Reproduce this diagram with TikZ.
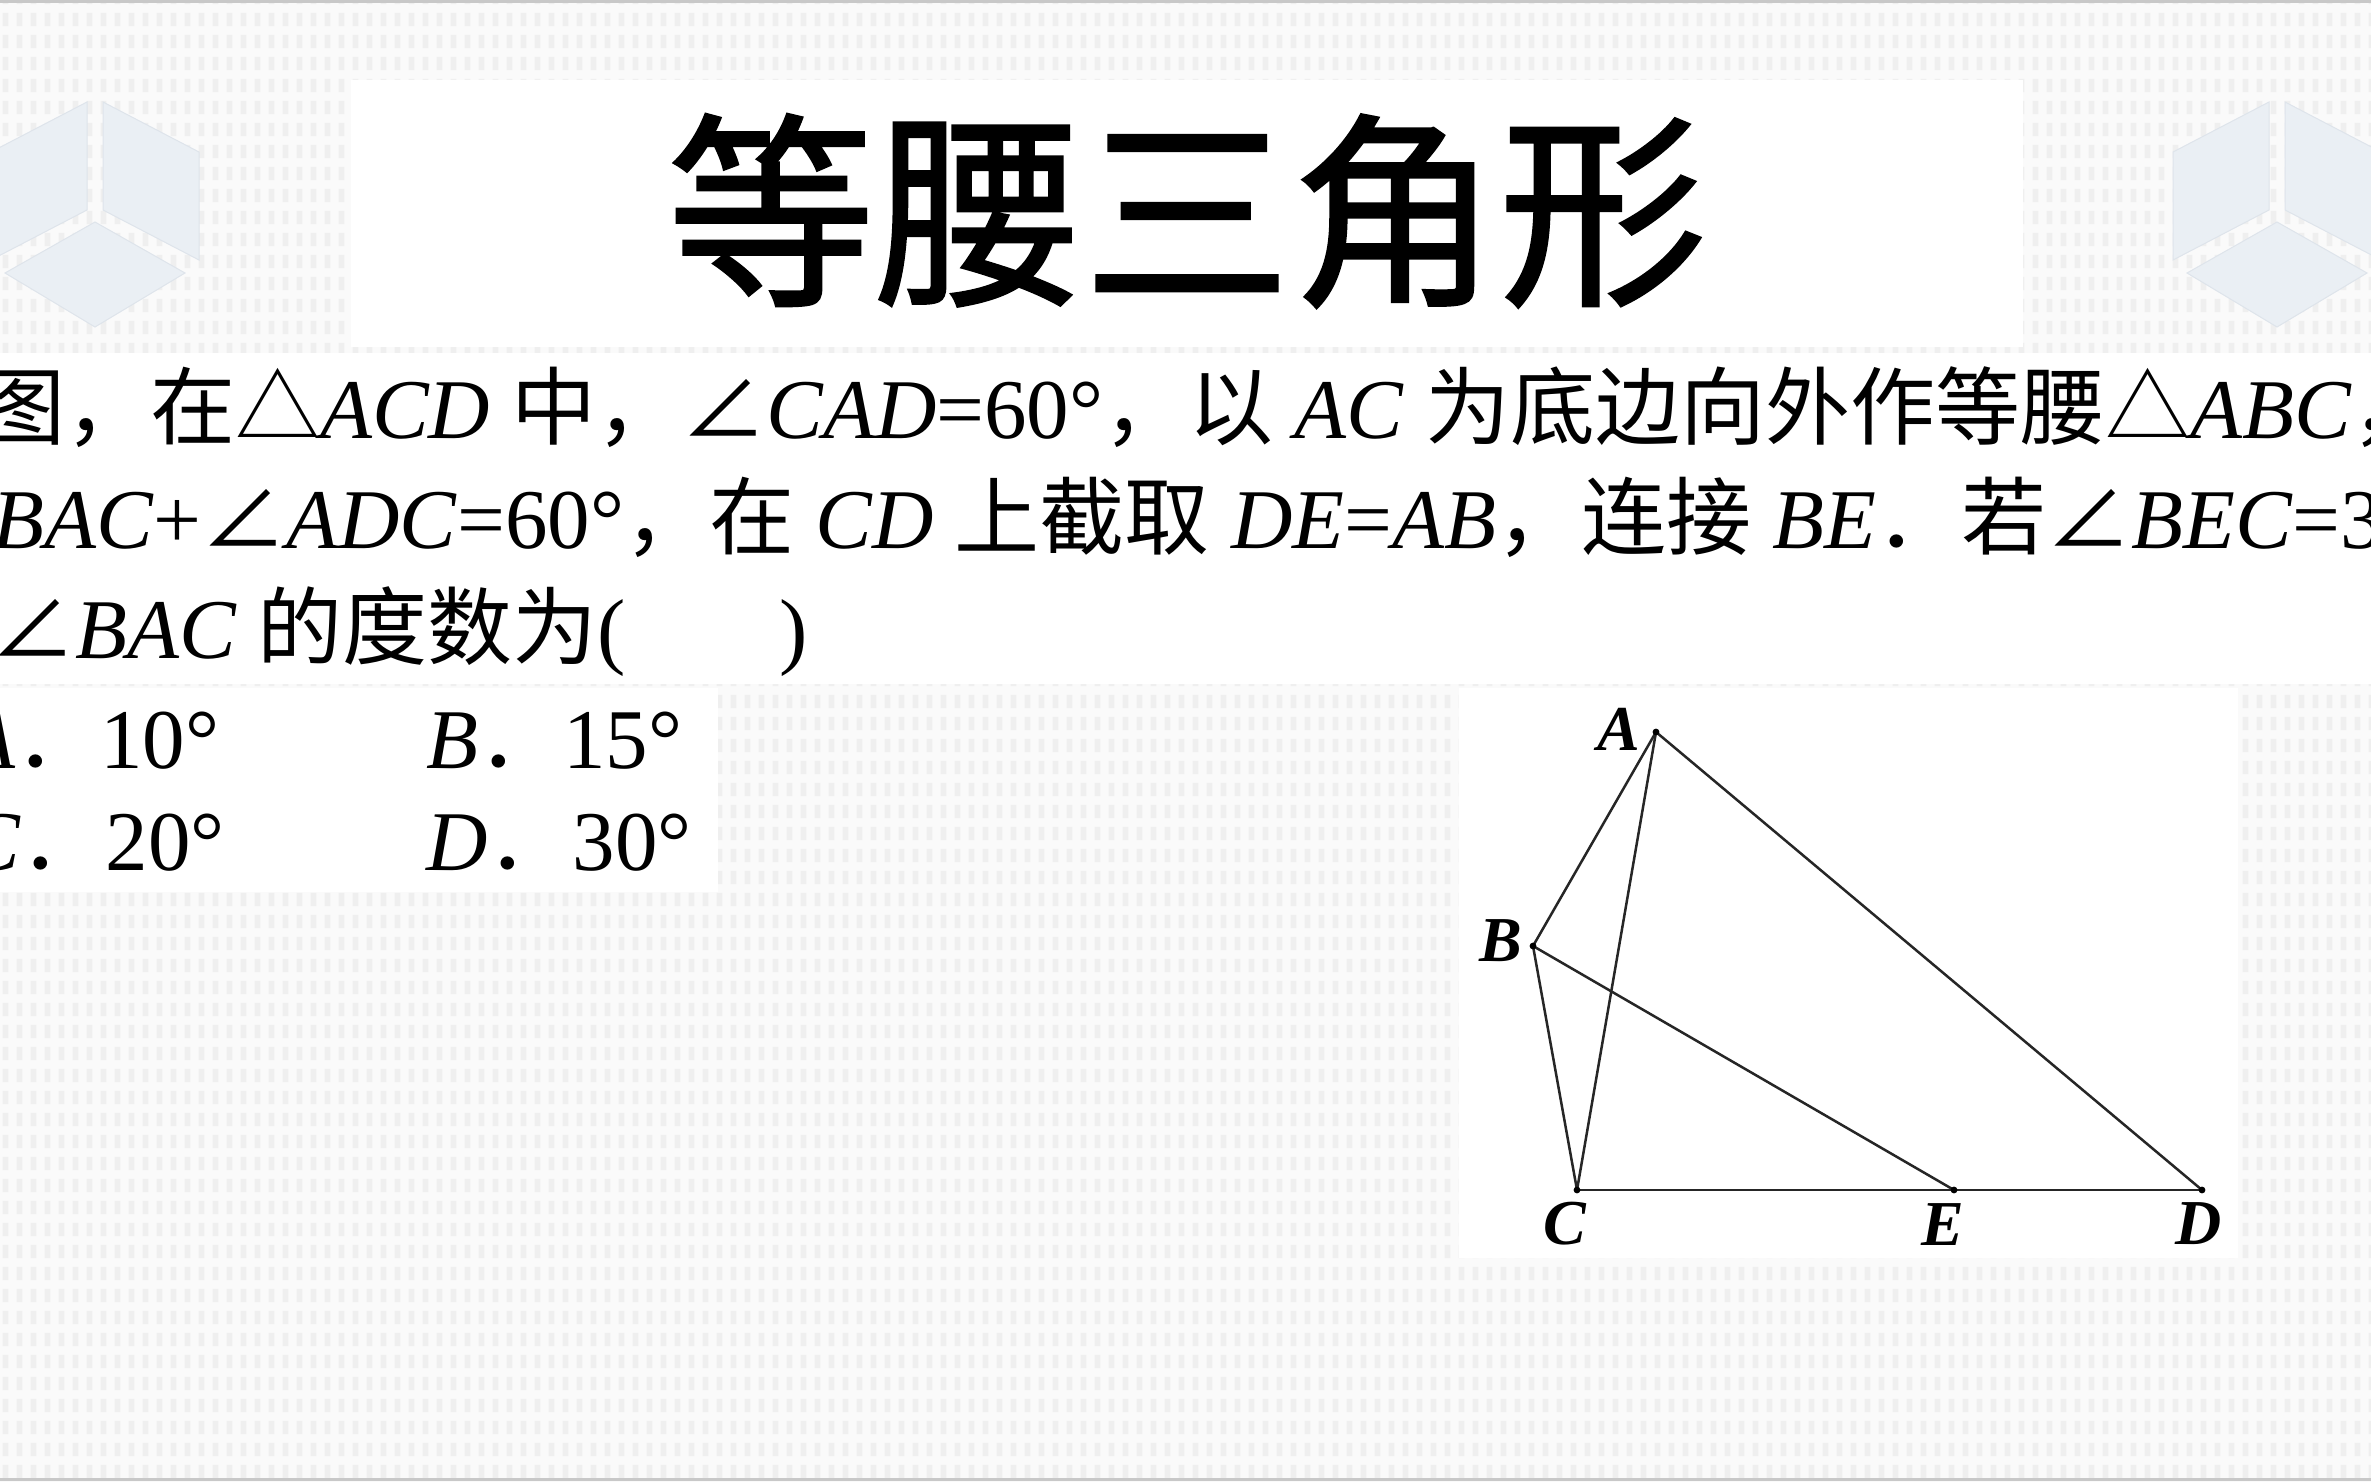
\documentclass[tikz,border=0pt]{standalone}
\usepackage{fontspec}
\setmainfont{Liberation Serif}
\newfontfamily\cjk{Noto Sans CJK SC}
\newfontfamily\cjktitle{Noto Sans CJK SC}[FakeBold=1.2]
\usetikzlibrary{patterns}

\definecolor{texbg}{RGB}{250,250,250}
\definecolor{texbar}{RGB}{239,239,239}
\definecolor{cubeface}{RGB}{234,239,244}
\definecolor{cubeedge}{RGB}{222,228,235}
\definecolor{rulegray}{RGB}{200,200,200}

\newcommand{\zh}[1]{{\cjk #1}}
\newcommand{\mi}[1]{\textit{#1}}

\pgfdeclarepatternformonly{slidebars}{\pgfpointorigin}{\pgfpoint{14pt}{22pt}}{\pgfpoint{14pt}{22pt}}{%
  \pgfpathrectangle{\pgfpoint{4pt}{4pt}}{\pgfpoint{6pt}{14pt}}\pgfusepath{fill}}

\begin{document}
\begin{tikzpicture}[x=1pt,y=-1pt,
  panel/.style={fill=white,draw=none},
  cube face/.style={fill=cubeface,draw=cubeedge,line width=1},
  body line/.style={anchor=base west,inner sep=0,font=\fontsize{85}{100}\selectfont},
  vertex label/.style={inner sep=0,font=\fontsize{64}{64}\selectfont\bfseries\itshape}]

  \path[use as bounding box,clip] (0,0) rectangle (2371,1482);

  % slide background
  \fill[texbg] (0,0) rectangle (2371,1482);
  \fill[pattern=slidebars,pattern color=texbar] (0,0) rectangle (2371,1482);
  \foreach \cx in {95,2277} {
    \path[cube face] (\cx+8,102) -- (\cx+104,152) -- (\cx+104,260) -- (\cx+8,210) -- cycle;
    \path[cube face] (\cx-8,102) -- (\cx-104,152) -- (\cx-104,260) -- (\cx-8,210) -- cycle;
    \path[cube face] (\cx,222) -- (\cx+90,273) -- (\cx,327) -- (\cx-90,273) -- cycle;
  }
  \path[panel] (351,80) rectangle (2023,347);
  \path[panel] (0,353) rectangle (2371,684);
  \path[panel] (0,688) rectangle (718,892);
  \path[panel] (1459,688) rectangle (2238,1258);
  \draw[rulegray,line width=3] (0,2) -- (2371,2) (0,1479) -- (2371,1479);

  \node[inner sep=0,font={\cjktitle\fontsize{208}{208}\selectfont}] (title) at (1187,211) {等腰三角形};

  % question
  \node[body line] (line1) at (-20,438) {\zh{图，在△}\mi{ACD} \zh{中，∠}\mi{CAD}=60°\zh{，以} \mi{AC} \zh{为底边向外作等腰△}\mi{ABC}\zh{，}};
  \node[body line] (line2) at (-8,548) {\mi{BAC}+\zh{∠}\mi{ADC}=60°\zh{，在} \mi{CD} \zh{上截取} \mi{DE}=\mi{AB}\zh{，连接} \mi{BE}\zh{．若∠}\mi{BEC}=3};
  \node[body line] (line3) at (-10,658) {\zh{∠}\mi{BAC} \zh{的度数为}(\hspace{1.8em})};

  \node[body line] (optA) at (-37,768) {\mi{A}\zh{．}10°};
  \node[body line] (optB) at (426,768) {\mi{B}\zh{．}15°};
  \node[body line] (optC) at (-37,870) {\mi{C}\zh{．}20°};
  \node[body line] (optD) at (426,870) {\mi{D}\zh{．}30°};

  % figure
  \coordinate (A) at (1656,732);
  \coordinate (B) at (1533,946);
  \coordinate (C) at (1577,1190);
  \coordinate (E) at (1954,1190);
  \coordinate (D) at (2202,1190);

  \path[draw=black!85,line width=2.5]
    (A) edge (B)
        edge (C)
        edge (D)
    (B) edge (C)
        edge (E)
    (C) edge (D);
  \foreach \p in {A,B,C,E,D}
    \fill (\p) circle (3.4);

  \node[vertex label] (lA) at (1619,729) {A};
  \node[vertex label] (lB) at (1501,941) {B};
  \node[vertex label] (lC) at (1565,1224) {C};
  \node[vertex label] (lE) at (1943,1225) {E};
  \node[vertex label] (lD) at (2199,1224) {D};
\end{tikzpicture}
\end{document}
